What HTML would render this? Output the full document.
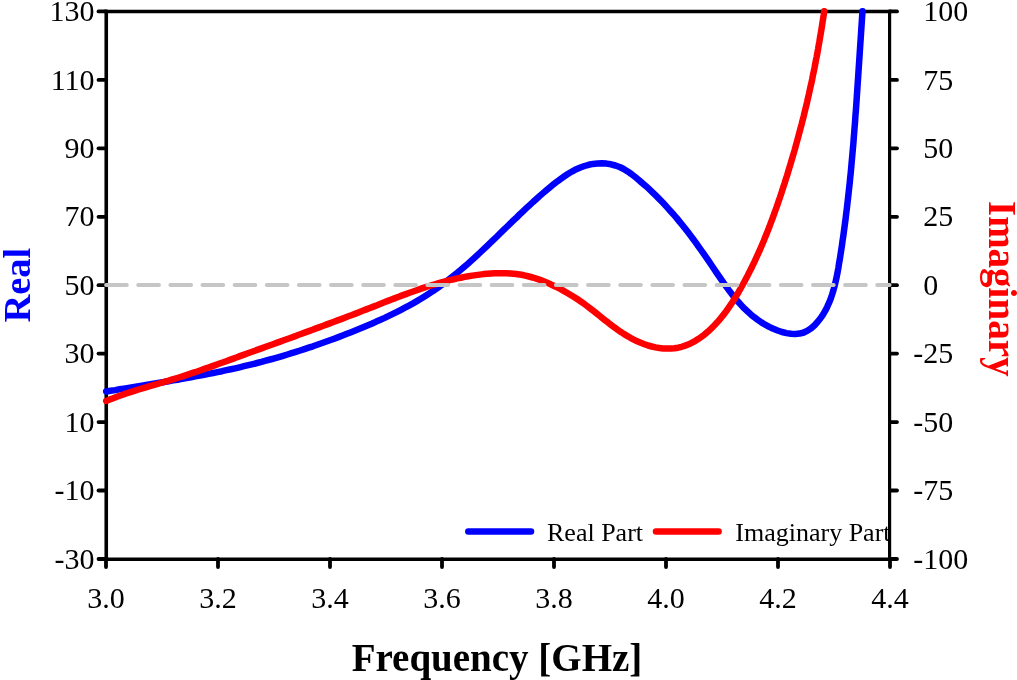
<!DOCTYPE html>
<html lang="en"><head><meta charset="utf-8"><title>Real and Imaginary Part vs Frequency</title>
<style>html,body{margin:0;padding:0;background:#fff}svg{display:block}text{font-family:"Liberation Serif","Times New Roman",serif;fill:#000}.tk{font-size:30px}.lg{font-size:26px}.ttl{font-size:39px;font-weight:bold}</style></head><body>
<svg width="1017" height="680" viewBox="0 0 1017 680">
<rect width="1017" height="680" fill="#fff"/>
<g stroke="#000" fill="none" stroke-linecap="butt">
<path d="M104.4,11.4 H891.2" stroke-width="3.5"/>
<path d="M104.4,559.2 H891.2" stroke-width="3.5"/>
<path d="M106.25,9.65 V560.95" stroke-width="3.6"/>
<path d="M889.6,9.65 V560.95" stroke-width="3.2"/>
</g>
<g stroke="#000" stroke-width="3.8" stroke-linecap="round" fill="none">
<path d="M98.5,559.0 H106"/>
<path d="M98.5,490.5 H106"/>
<path d="M98.5,422.1 H106"/>
<path d="M98.5,353.6 H106"/>
<path d="M98.5,285.2 H106"/>
<path d="M98.5,216.8 H106"/>
<path d="M98.5,148.3 H106"/>
<path d="M98.5,79.9 H106"/>
<path d="M98.5,11.4 H106"/>
<path d="M890,559.0 H897"/>
<path d="M890,490.5 H897"/>
<path d="M890,422.1 H897"/>
<path d="M890,353.6 H897"/>
<path d="M890,285.2 H897"/>
<path d="M890,216.8 H897"/>
<path d="M890,148.3 H897"/>
<path d="M890,79.9 H897"/>
<path d="M890,11.4 H897"/>
<path d="M106.0,559 V567"/>
<path d="M218.0,559 V567"/>
<path d="M330.0,559 V567"/>
<path d="M442.0,559 V567"/>
<path d="M554.0,559 V567"/>
<path d="M666.0,559 V567"/>
<path d="M778.0,559 V567"/>
<path d="M890.0,559 V567"/>
</g>
<path d="M106.2,391.5 L110.6,390.8 L115.1,390.1 L119.5,389.3 L123.9,388.6 L128.4,387.9 L132.8,387.2 L137.3,386.4 L141.8,385.7 L146.2,385.0 L150.7,384.2 L155.1,383.5 L159.6,382.7 L164.1,382.0 L168.5,381.2 L173.0,380.4 L177.5,379.7 L181.9,378.9 L186.4,378.1 L190.9,377.3 L195.3,376.4 L199.8,375.6 L204.2,374.7 L208.7,373.9 L213.1,373.0 L217.5,372.1 L222.0,371.2 L226.4,370.2 L230.8,369.3 L235.2,368.3 L239.6,367.3 L244.0,366.2 L248.4,365.2 L252.8,364.1 L257.1,363.0 L261.5,361.9 L265.8,360.7 L270.1,359.5 L274.5,358.3 L278.8,357.1 L283.1,355.8 L287.4,354.5 L291.6,353.2 L295.9,351.9 L300.2,350.5 L304.4,349.1 L308.7,347.7 L313.0,346.3 L317.2,344.8 L321.5,343.3 L325.7,341.8 L329.9,340.3 L334.2,338.7 L338.4,337.1 L342.6,335.5 L346.9,333.8 L351.1,332.2 L355.3,330.5 L359.5,328.8 L363.8,327.0 L368.0,325.3 L372.2,323.5 L376.3,321.6 L380.5,319.8 L384.7,317.9 L388.8,315.9 L392.9,313.9 L397.0,311.9 L401.0,309.8 L405.0,307.7 L409.0,305.6 L413.0,303.4 L416.9,301.1 L420.8,298.8 L424.6,296.4 L428.4,294.0 L432.2,291.6 L435.9,289.0 L439.6,286.5 L443.2,283.8 L446.8,281.1 L450.3,278.4 L453.8,275.6 L457.3,272.8 L460.7,269.9 L464.1,267.0 L467.5,264.1 L470.8,261.1 L474.1,258.1 L477.4,255.1 L480.7,252.0 L484.0,248.9 L487.2,245.8 L490.5,242.7 L493.7,239.6 L497.0,236.5 L500.2,233.3 L503.4,230.2 L506.7,227.0 L509.9,223.9 L513.2,220.7 L516.5,217.6 L519.7,214.4 L523.0,211.3 L526.3,208.2 L529.7,205.1 L533.0,202.0 L536.4,199.0 L539.8,195.9 L543.3,192.9 L546.7,190.0 L550.3,187.0 L553.8,184.1 L557.4,181.3 L561.1,178.6 L564.8,176.0 L568.6,173.5 L572.4,171.3 L576.3,169.2 L580.4,167.5 L584.5,166.0 L588.7,164.8 L593.0,163.9 L597.4,163.4 L601.9,163.3 L606.5,163.6 L611.0,164.3 L615.4,165.5 L619.6,167.0 L623.7,169.0 L627.6,171.4 L631.3,174.0 L634.9,176.8 L638.5,179.7 L641.9,182.7 L645.4,185.7 L648.7,188.7 L652.0,191.8 L655.2,194.9 L658.4,198.1 L661.5,201.3 L664.6,204.6 L667.6,207.9 L670.6,211.2 L673.6,214.5 L676.5,217.9 L679.3,221.4 L682.1,224.8 L684.9,228.3 L687.7,231.8 L690.4,235.4 L693.1,239.0 L695.8,242.6 L698.4,246.3 L701.0,250.0 L703.6,253.7 L706.2,257.4 L708.8,261.2 L711.4,265.0 L713.9,268.8 L716.5,272.6 L719.1,276.4 L721.7,280.2 L724.3,283.9 L727.0,287.6 L729.7,291.3 L732.5,294.9 L735.3,298.4 L738.2,301.8 L741.2,305.1 L744.3,308.4 L747.5,311.4 L750.8,314.4 L754.2,317.2 L757.8,319.9 L761.4,322.4 L765.2,324.7 L769.2,326.9 L773.3,328.8 L777.6,330.5 L782.0,332.0 L786.5,333.1 L791.0,333.8 L795.4,334.0 L799.7,333.6 L803.8,332.5 L807.6,330.6 L811.2,328.2 L814.6,325.2 L817.7,321.8 L820.5,318.3 L823.0,314.6 L825.3,310.7 L827.3,306.7 L829.1,302.7 L830.8,298.5 L832.2,294.3 L833.5,290.0 L834.7,285.6 L835.7,281.2 L836.7,276.7 L837.6,272.2 L838.4,267.7 L839.1,263.1 L839.9,258.6 L840.6,254.1 L841.3,249.6 L842.0,245.1 L842.6,240.5 L843.3,236.0 L843.9,231.5 L844.5,227.0 L845.1,222.5 L845.7,218.0 L846.2,213.5 L846.8,209.0 L847.3,204.5 L847.8,200.1 L848.3,195.6 L848.8,191.1 L849.3,186.6 L849.8,182.1 L850.2,177.6 L850.7,173.1 L851.1,168.7 L851.5,164.2 L851.9,159.7 L852.3,155.2 L852.7,150.8 L853.1,146.3 L853.5,141.8 L853.8,137.3 L854.2,132.8 L854.5,128.4 L854.9,123.9 L855.2,119.4 L855.5,114.9 L855.9,110.4 L856.2,105.9 L856.5,101.5 L856.8,97.0 L857.1,92.5 L857.4,88.0 L857.7,83.5 L858.0,79.0 L858.3,74.5 L858.6,70.0 L858.9,65.5 L859.2,61.0 L859.5,56.5 L859.8,52.0 L860.1,47.4 L860.4,42.9 L860.7,38.4 L861.0,33.9 L861.3,29.3 L861.6,24.8 L861.9,20.3 L862.2,15.7 L862.5,11.2" fill="none" stroke="#0000ff" stroke-width="6.5" stroke-linecap="round" stroke-linejoin="round"/>
<path d="M106.2,401.0 L109.7,399.6 L113.3,398.2 L116.9,396.8 L120.5,395.5 L124.1,394.2 L127.7,393.0 L131.3,391.8 L135.0,390.7 L138.6,389.5 L142.3,388.4 L145.9,387.3 L149.6,386.2 L153.3,385.1 L156.9,384.1 L160.6,383.0 L164.3,381.9 L168.0,380.8 L171.6,379.7 L175.3,378.6 L178.9,377.5 L182.6,376.3 L186.3,375.1 L189.9,373.9 L193.5,372.7 L197.2,371.5 L200.8,370.2 L204.4,368.9 L208.1,367.7 L211.7,366.4 L215.3,365.1 L218.9,363.8 L222.6,362.5 L226.2,361.2 L229.8,359.9 L233.4,358.6 L237.0,357.3 L240.6,355.9 L244.2,354.6 L247.8,353.3 L251.4,352.0 L255.0,350.7 L258.6,349.4 L262.2,348.1 L265.8,346.8 L269.4,345.5 L273.0,344.2 L276.6,342.9 L280.2,341.6 L283.8,340.3 L287.4,339.0 L291.0,337.7 L294.6,336.4 L298.1,335.0 L301.7,333.7 L305.3,332.4 L308.9,331.1 L312.5,329.8 L316.1,328.4 L319.7,327.1 L323.3,325.8 L326.9,324.4 L330.4,323.1 L334.0,321.8 L337.6,320.4 L341.2,319.1 L344.8,317.7 L348.4,316.3 L352.0,315.0 L355.6,313.6 L359.1,312.2 L362.7,310.8 L366.3,309.4 L369.9,308.0 L373.5,306.6 L377.1,305.2 L380.7,303.7 L384.3,302.3 L387.9,300.9 L391.5,299.5 L395.1,298.1 L398.7,296.8 L402.3,295.4 L405.9,294.1 L409.5,292.8 L413.2,291.5 L416.8,290.2 L420.4,288.9 L424.1,287.7 L427.7,286.5 L431.4,285.4 L435.0,284.3 L438.7,283.2 L442.4,282.1 L446.1,281.1 L449.8,280.2 L453.5,279.3 L457.2,278.4 L460.9,277.7 L464.7,276.9 L468.4,276.2 L472.2,275.6 L475.9,275.1 L479.7,274.6 L483.5,274.1 L487.3,273.8 L491.1,273.5 L494.9,273.3 L498.7,273.2 L502.6,273.2 L506.4,273.3 L510.2,273.5 L514.0,273.8 L517.8,274.3 L521.6,274.8 L525.3,275.6 L529.0,276.5 L532.7,277.5 L536.4,278.7 L540.0,279.9 L543.6,281.3 L547.2,282.8 L550.7,284.3 L554.2,286.0 L557.7,287.7 L561.1,289.4 L564.5,291.3 L567.8,293.2 L571.1,295.2 L574.4,297.2 L577.6,299.3 L580.8,301.5 L583.9,303.7 L587.0,306.0 L590.1,308.4 L593.1,310.7 L596.2,313.1 L599.2,315.5 L602.2,318.0 L605.2,320.4 L608.3,322.7 L611.3,325.1 L614.4,327.4 L617.5,329.6 L620.6,331.8 L623.8,333.9 L627.1,335.9 L630.4,337.8 L633.8,339.6 L637.2,341.3 L640.8,342.8 L644.4,344.2 L648.1,345.5 L651.8,346.5 L655.6,347.4 L659.4,348.0 L663.2,348.4 L667.0,348.6 L670.7,348.6 L674.5,348.3 L678.1,347.7 L681.7,346.8 L685.2,345.6 L688.7,344.3 L692.1,342.6 L695.4,340.8 L698.6,338.8 L701.7,336.6 L704.8,334.3 L707.7,331.8 L710.6,329.1 L713.4,326.4 L716.1,323.5 L718.7,320.6 L721.2,317.6 L723.6,314.6 L726.0,311.5 L728.2,308.4 L730.4,305.2 L732.5,302.0 L734.5,298.7 L736.5,295.5 L738.5,292.2 L740.4,288.9 L742.3,285.5 L744.1,282.2 L745.9,278.8 L747.7,275.4 L749.4,272.0 L751.2,268.6 L752.8,265.1 L754.5,261.7 L756.1,258.2 L757.7,254.7 L759.3,251.2 L760.8,247.7 L762.3,244.2 L763.8,240.7 L765.2,237.1 L766.7,233.6 L768.1,230.0 L769.5,226.5 L770.8,222.9 L772.2,219.3 L773.5,215.7 L774.8,212.1 L776.1,208.5 L777.4,204.8 L778.6,201.2 L779.9,197.6 L781.1,193.9 L782.3,190.3 L783.5,186.6 L784.7,183.0 L785.8,179.3 L787.0,175.7 L788.1,172.0 L789.2,168.3 L790.3,164.7 L791.4,161.0 L792.5,157.3 L793.6,153.6 L794.7,149.9 L795.7,146.2 L796.7,142.5 L797.7,138.8 L798.7,135.1 L799.7,131.4 L800.7,127.7 L801.7,124.0 L802.6,120.3 L803.6,116.6 L804.5,112.8 L805.4,109.1 L806.3,105.4 L807.2,101.7 L808.0,97.9 L808.9,94.2 L809.7,90.4 L810.5,86.7 L811.4,82.9 L812.2,79.2 L812.9,75.4 L813.7,71.7 L814.5,67.9 L815.2,64.1 L815.9,60.4 L816.7,56.6 L817.4,52.8 L818.1,49.1 L818.7,45.3 L819.4,41.5 L820.0,37.7 L820.7,33.9 L821.3,30.2 L821.9,26.4 L822.5,22.6 L823.1,18.8 L823.7,15.0 L824.2,11.2" fill="none" stroke="#ff0000" stroke-width="6.5" stroke-linecap="round" stroke-linejoin="round"/>
<path d="M106.1,285.1 H889.6" fill="none" stroke="#c6c6c6" stroke-width="4" stroke-linecap="round" stroke-dasharray="20.7 11.43"/>
<g class="tk">
<text x="94.6" y="568.6" text-anchor="end">-30</text>
<text x="94.6" y="500.1" text-anchor="end">-10</text>
<text x="94.6" y="431.7" text-anchor="end">10</text>
<text x="94.6" y="363.2" text-anchor="end">30</text>
<text x="94.6" y="294.8" text-anchor="end">50</text>
<text x="94.6" y="226.3" text-anchor="end">70</text>
<text x="94.6" y="157.9" text-anchor="end">90</text>
<text x="94.6" y="89.5" text-anchor="end">110</text>
<text x="94.6" y="21.0" text-anchor="end">130</text>
<text x="913.2" y="568.6">-100</text>
<text x="913.2" y="500.1">-75</text>
<text x="913.2" y="431.7">-50</text>
<text x="913.2" y="363.2">-25</text>
<text x="923.2" y="294.8">0</text>
<text x="923.2" y="226.3">25</text>
<text x="923.2" y="157.9">50</text>
<text x="923.2" y="89.5">75</text>
<text x="923.2" y="21.0">100</text>
<text x="106.0" y="608.3" text-anchor="middle">3.0</text>
<text x="218.0" y="608.3" text-anchor="middle">3.2</text>
<text x="330.0" y="608.3" text-anchor="middle">3.4</text>
<text x="442.0" y="608.3" text-anchor="middle">3.6</text>
<text x="554.0" y="608.3" text-anchor="middle">3.8</text>
<text x="666.0" y="608.3" text-anchor="middle">4.0</text>
<text x="778.0" y="608.3" text-anchor="middle">4.2</text>
<text x="890.0" y="608.3" text-anchor="middle">4.4</text>
</g>
<path d="M468.3,531.4 H531" stroke="#0000ff" stroke-width="6.5" stroke-linecap="round"/>
<path d="M656,531.4 H718.6" stroke="#ff0000" stroke-width="6.5" stroke-linecap="round"/>
<text class="lg" x="547" y="540.6">Real Part</text>
<text class="lg" x="735.3" y="540.6">Imaginary Part</text>
<text class="ttl" x="497" y="670.8" text-anchor="middle">Frequency [GHz]</text>
<text class="ttl" style="fill:#0000ff;font-size:38.5px" transform="translate(29.7,285.2) rotate(-90)" text-anchor="middle">Real</text>
<text class="ttl" style="fill:#ff0000" transform="translate(988.9,288.7) rotate(90)" text-anchor="middle">Imaginary</text>
</svg></body></html>
